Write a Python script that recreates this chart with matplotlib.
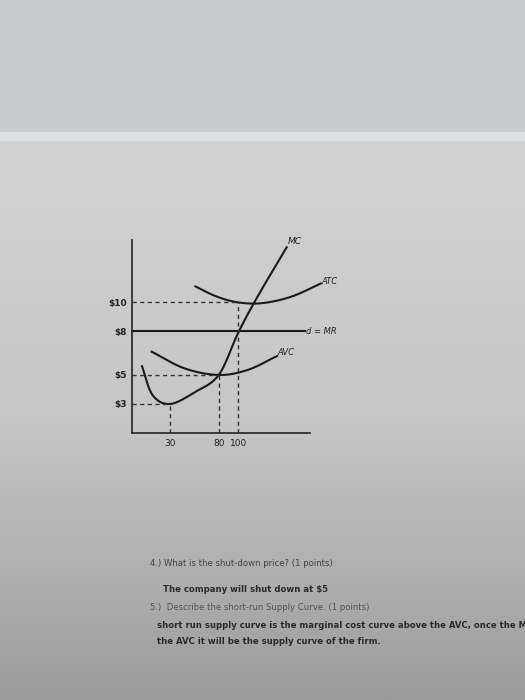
import numpy as np
import matplotlib
matplotlib.use("Agg")
import matplotlib.pyplot as plt
from matplotlib.patches import Rectangle

mc_x = [1, 12, 30, 55, 80, 100, 120, 150]
mc_y = [5.6, 3.6, 3.0, 3.8, 5.0, 7.9, 10.4, 13.8]
avc_x = [11, 45, 80, 110, 140]
avc_y = [6.6, 5.45, 5.0, 5.35, 6.3]
atc_x = [56, 78, 100, 125, 155, 185]
atc_y = [11.1, 10.4, 10.0, 9.95, 10.4, 11.3]
price_mr = 8
y_ticks = [3, 5, 8, 10]
y_labels = ["$3", "$5", "$8", "$10"]
x_ticks = [30, 80, 100]
x_labels = ["30", "80", "100"]

W, H = 525, 700
fig = plt.figure(figsize=(5.25, 7), dpi=100)
bg = fig.add_axes([0, 0, 1, 1]); bg.axis("off")
bg.add_patch(Rectangle((0, 0), W, 132, color="#c9cacd"))
bg.add_patch(Rectangle((0, 132), W, 8, color="#dedfe0"))
grad = np.linspace(0, 1, 200)[:, None]
bg.imshow(grad, extent=[0, W, H, 140], cmap=matplotlib.colors.LinearSegmentedColormap.from_list("g", ["#d2d2d2", "#c6c6c6", "#9c9c9c"]), aspect="auto")
bg.set_xlim(0, W); bg.set_ylim(H, 0)

def fa(l, t, r, b):
    return [l / W, 1 - b / H, (r - l) / W, (b - t) / H]

ax = fig.add_axes(fa(132, 240, 310, 433))
ax.patch.set_alpha(0)
ax.set_xlim(-9.3, 174); ax.set_ylim(1.0, 14.3)
for s in ["top", "right"]:
    ax.spines[s].set_visible(False)
for s in ["left", "bottom"]:
    ax.spines[s].set_color("#222"); ax.spines[s].set_linewidth(1.2)

def catmull(xs, ys, n=30):
    P = np.column_stack([xs, ys]).astype(float)
    P = np.vstack([2 * P[0] - P[1], P, 2 * P[-1] - P[-2]])
    out = []
    t = np.linspace(0, 1, n)[:, None]
    for i in range(1, len(P) - 2):
        p0, p1, p2, p3 = P[i - 1], P[i], P[i + 1], P[i + 2]
        out.append(0.5 * ((2 * p1) + (-p0 + p2) * t + (2 * p0 - 5 * p1 + 4 * p2 - p3) * t**2
                          + (-p0 + 3 * p1 - 3 * p2 + p3) * t**3))
    o = np.vstack(out)
    return o[:, 0], o[:, 1]

for xs, ys in [(mc_x, mc_y), (avc_x, avc_y), (atc_x, atc_y)]:
    xx, yy = catmull(xs, ys)
    ax.plot(xx, yy, color="#1a1a1a", lw=1.5, clip_on=False)
ax.plot([-9.3, 169], [price_mr, price_mr], color="#1a1a1a", lw=1.5, clip_on=False)

ls = dict(color="#333", lw=1, ls=(0, (3, 2.5)))
for xv, yv in [(100, 10), (80, 5), (30, 3)]:
    ax.plot([-9.3, xv], [yv, yv], **ls)
    ax.plot([xv, xv], [1.0, yv], **ls)

ax.set_yticks(y_ticks, y_labels, fontsize=6.5, fontweight="bold", color="#222")
ax.set_xticks(x_ticks, x_labels, fontsize=6.5, color="#222")
ax.tick_params(length=0, pad=4)

ax.text(151, 14.0, "MC", fontsize=6.5, style="italic", color="#222")
ax.text(186, 11.3, "ATC", fontsize=6, style="italic", color="#222")
ax.text(170, 8, "d = MR", fontsize=6, style="italic", color="#222", va="center")
ax.text(140, 6.4, "AVC", fontsize=6, style="italic", color="#222")

tc = "#2a2a2a"
fs = 6.15
bg.text(150, 563, "4.) What is the shut-down price? (1 points)", fontsize=fs, color="#444", va="center")
bg.text(163, 590, "The company will shut down at $5", fontsize=fs, color=tc, fontweight="bold", va="center")
bg.text(150, 608, "5.)  Describe the short-run Supply Curve. (1 points)", fontsize=fs, color="#555", va="center")
bg.text(157, 625, "short run supply curve is the marginal cost curve above the AVC, once the M", fontsize=fs, color=tc, fontweight="bold", va="center")
bg.text(157, 641, "the AVC it will be the supply curve of the firm.", fontsize=fs, color=tc, fontweight="bold", va="center")

fig.savefig("out.png", dpi=100)
